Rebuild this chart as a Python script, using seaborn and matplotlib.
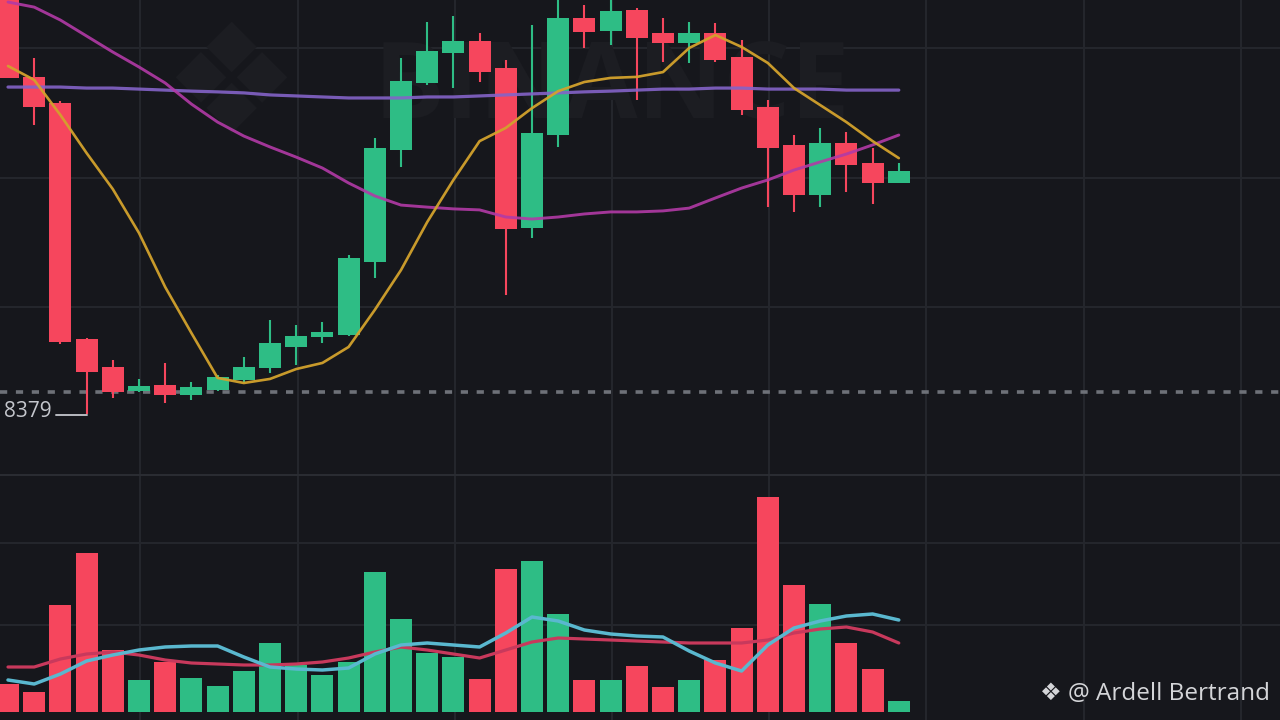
import numpy as np
import pandas as pd
import matplotlib
matplotlib.use("Agg")
import matplotlib.pyplot as plt
import seaborn as sns
from matplotlib.lines import Line2D

# candles (price units)
opens = [30128, 29707, 29604, 28674, 28564, 28470, 28493, 28454, 28473, 28513, 28560, 28643,
         28682, 28690, 28978, 29419, 29683, 29801, 29848, 29742, 29112, 29478, 29939, 29888,
         29971, 29880, 29841, 29880, 29785, 29588, 29439, 29242, 29447, 29368, 29289]
highs = [30168, 29781, 29612, 28678, 28592, 28517, 28580, 28505, 28533, 28603, 28749, 28730,
         28741, 29005, 29466, 29781, 29923, 29947, 29880, 29774, 29912, 30030, 29990, 30022,
         29978, 29939, 29923, 29919, 29852, 29616, 29478, 29506, 29490, 29427, 29368]
lows = [29703, 29518, 28655, 28379, 28442, 28466, 28422, 28434, 28470, 28501, 28540, 28572,
        28659, 28686, 28915, 29352, 29675, 29663, 29687, 28848, 29072, 29431, 29821, 29833,
        29616, 29766, 29762, 29766, 29557, 29194, 29175, 29194, 29254, 29206, 29289]
closes = [29703, 29588, 28663, 28544, 28466, 28489, 28454, 28485, 28525, 28564, 28659, 28686,
          28702, 28993, 29427, 29691, 29809, 29848, 29726, 29108, 29486, 29939, 29884, 29967,
          29860, 29841, 29880, 29774, 29577, 29427, 29242, 29447, 29360, 29289, 29336]

ma7 = [29750, 29695, 29557, 29407, 29265, 29092, 28879, 28698, 28521, 28501, 28517, 28556,
       28580, 28643, 28789, 28946, 29135, 29301, 29454, 29506, 29584, 29651, 29687, 29703,
       29707, 29726, 29821, 29872, 29825, 29762, 29663, 29596, 29529, 29454, 29387]
ma25 = [30002, 29982, 29931, 29868, 29805, 29746, 29683, 29600, 29529, 29474, 29431, 29391,
        29348, 29289, 29238, 29202, 29194, 29187, 29183, 29155, 29147, 29155, 29167, 29175,
        29175, 29179, 29190, 29230, 29269, 29301, 29340, 29372, 29403, 29439, 29478]
ma99 = [29667, 29667, 29667, 29663, 29663, 29659, 29655, 29651, 29648, 29644, 29636, 29632,
        29628, 29624, 29624, 29624, 29628, 29628, 29632, 29636, 29640, 29644, 29648, 29651,
        29655, 29659, 29659, 29663, 29663, 29659, 29659, 29659, 29655, 29655, 29655]

volumes = [280, 200, 1070, 1590, 620, 320, 500, 340, 260, 410, 690, 470, 370, 500, 1400, 930,
           590, 550, 330, 1430, 1510, 980, 320, 320, 460, 250, 320, 520, 840, 2150, 1270, 1080,
           690, 430, 110]
vol_ma5 = [320, 280, 380, 510, 570, 620, 650, 660, 660, 550, 450, 430, 420, 440, 580, 670, 690,
           670, 650, 790, 950, 910, 820, 780, 760, 750, 610, 490, 410, 670, 840, 910, 960, 980, 920]
vol_ma10 = [450, 450, 530, 580, 600, 570, 520, 490, 480, 470, 470, 480, 500, 540, 600, 650, 620,
            580, 540, 620, 700, 740, 730, 720, 710, 700, 690, 690, 690, 720, 790, 830, 850, 800, 690]

low_label = "8379"
last_price = 28466
watermark = "\u2756 @ Ardell Bertrand"

bg = "#16171c"
grid_c = "#24262c"
green = "#2ebd85"
red = "#f6465d"

sns.set_theme(style="dark", rc={"axes.facecolor": bg, "figure.facecolor": bg})
plt.rcParams["font.family"] = ["Open Sans", "DejaVu Sans"]

idx = np.arange(len(opens))
o = np.array(opens)
c = np.array(closes)
up = c >= o
colors = np.where(up, green, red)

fig = plt.figure(figsize=(12.8, 7.2), dpi=100)
ax_p = fig.add_axes([0, 245 / 720, 1, 475 / 720])
ax_v = fig.add_axes([0, 0, 1, 245 / 720])

xlim = (-8 / 26.2, 1272 / 26.2)
for ax in (ax_p, ax_v):
    ax.set_facecolor(bg)
    for s in ax.spines.values():
        s.set_visible(False)
    for gx in np.arange(5, 48, 6) + 0.05:
        ax.axvline(gx, color=grid_c, lw=1.5, zorder=0)

# price pane
for gy in [28800, 29310, 29820]:
    ax_p.axhline(gy, color=grid_c, lw=1.5, zorder=0)
ax_p.axhline(last_price, color="#6e7178", lw=2.6, dashes=(2, 2.4), zorder=1)

# faint exchange watermark
ax_p.text(0.18, 0.81, "\u2756", transform=ax_p.transAxes, fontsize=110, color="#1c1d22",
          ha="center", va="center", family=["DejaVu Sans"], zorder=0.5)
ax_p.text(0.478, 0.81, "BINANCE", transform=ax_p.transAxes, fontsize=76, fontweight="bold",
          color="#1c1d22", ha="center", va="center", zorder=0.5)

ax_p.vlines(idx, lows, highs, colors=colors, lw=1.5, zorder=2)
body_lo = np.minimum(o, c)
body_h = np.maximum(np.abs(c - o), 4)
ax_p.bar(idx, body_h, bottom=body_lo, width=0.84, color=colors, lw=0, zorder=2)

sns.lineplot(x=idx, y=ma99, ax=ax_p, color="#8463c8", lw=2.3, zorder=3, alpha=0.9)
sns.lineplot(x=idx, y=ma25, ax=ax_p, color="#b23aa6", lw=2.1, zorder=3, alpha=0.9)
sns.lineplot(x=idx, y=ma7, ax=ax_p, color="#d3a22c", lw=1.9, zorder=3, alpha=0.95)

# lowest price marker
low_i = int(np.argmin(lows))
ax_p.plot([low_i - 1.15, low_i], [lows[low_i] - 4, lows[low_i] - 4], color="#b8bac0", lw=1.4, zorder=3)
ax_p.text(low_i - 1.35, lows[low_i] + 8, low_label, color="#c4c6cc", fontsize=15,
          ha="right", va="center", zorder=3)

ax_p.set_xlim(*xlim)
ax_p.set_ylim(30010 - 3.94 * 475, 30010)

# volume pane
for gy in [870, 1690]:
    ax_v.axhline(gy, color=grid_c, lw=1.5, zorder=0)

vol_df = pd.DataFrame({"idx": idx, "volume": volumes, "dir": np.where(up, "up", "down")})
sns.barplot(data=vol_df, x="idx", y="volume", hue="dir", palette={"up": green, "down": red},
            native_scale=True, width=0.84, saturation=1, errorbar=None, legend=False,
            linewidth=0, ax=ax_v, zorder=2)
sns.lineplot(x=idx, y=vol_ma10, ax=ax_v, color="#c8395c", lw=2.3, zorder=3)
sns.lineplot(x=idx, y=vol_ma5, ax=ax_v, color="#5ab8cf", lw=2.5, zorder=3)

ax_v.set_xlim(*xlim)
ax_v.set_ylim(-80, 2370)

for ax in (ax_p, ax_v):
    ax.set_xticks([])
    ax.set_yticks([])
    ax.set_xlabel("")
    ax.set_ylabel("")

fig.add_artist(Line2D([0, 1], [245 / 720, 245 / 720], color="#2a2c32", lw=1.5))

fig.text(1270 / 1280, 26 / 720, watermark, color="#d4d5d8", fontsize=17.5,
         ha="right", va="center")

fig.savefig("out.png", dpi=100, facecolor=bg)
